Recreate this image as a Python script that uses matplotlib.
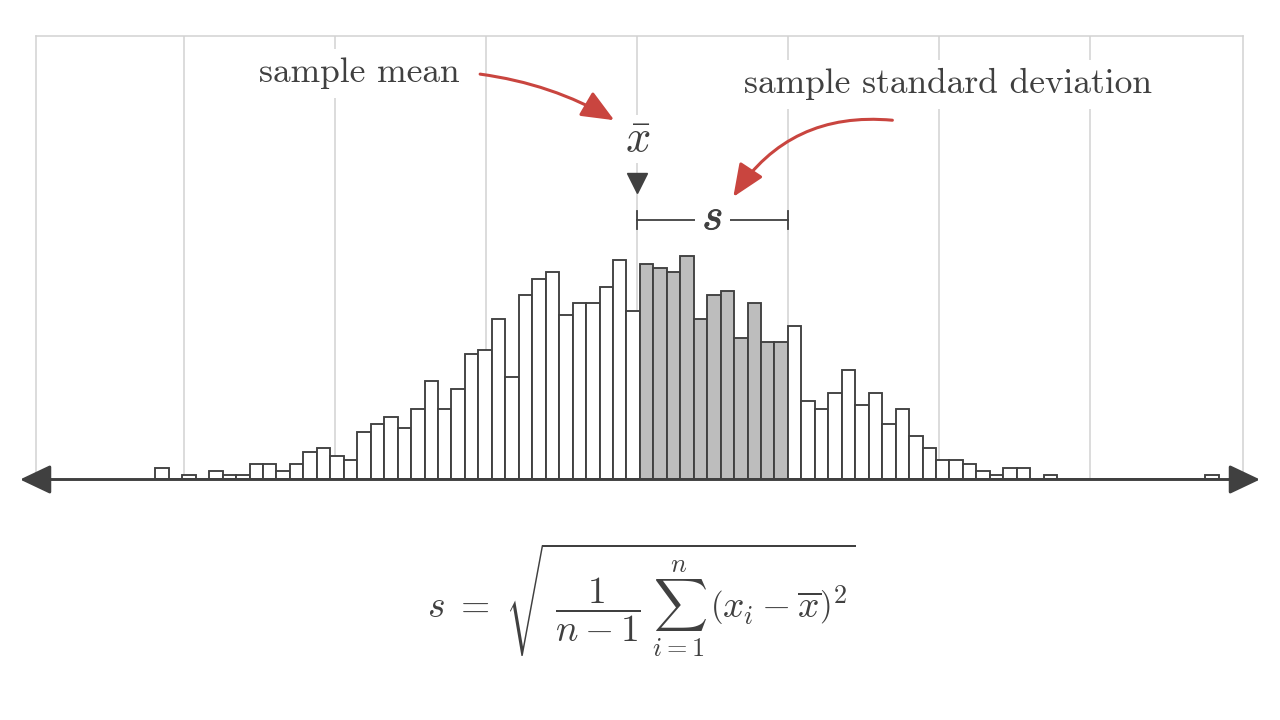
import matplotlib
matplotlib.use('Agg')
import matplotlib.pyplot as plt
import matplotlib.patheffects as pe
import numpy as np

plt.rcParams['mathtext.fontset'] = 'cm'
plt.rcParams['axes.unicode_minus'] = False

# ---------------- data ----------------
x_mean = 0.0          # sample mean (axis units = standard deviations)
x_sd = 1.0            # sample standard deviation
bin_start = -3.19     # left edge of the first histogram bin
bin_width = 0.0891
counts = [3, 0, 1, 0, 2, 1, 1, 4, 4, 2, 4, 7, 8, 6, 5, 12, 14, 16, 13, 18,
          25, 18, 23, 32, 33, 41, 26, 47, 51, 53, 42, 45, 45, 49, 56, 43,
          55, 54, 53, 57, 41, 47, 48, 36, 45, 35, 35, 39, 20, 18, 22, 28, 19, 22,
          14, 18, 11, 8, 5, 5, 4, 2, 1, 3, 3, 0, 1,
          0, 0, 0, 0, 0, 0, 0, 0, 0, 0, 0, 1]
grid_ticks = [-3, -2, -1, 0, 1, 2, 3]
label_mean = "sample mean"
label_sd = "sample standard deviation"
formula = (r'$s\; =\; \sqrt{\;\dfrac{1}{n-1}\;\sum_{i=1}^{n}\,'
           r'\left(x_i-\overline{x}\right)^2}$')

# ---------------- style ----------------
TXT = '#404040'
RED = '#c9453f'
GRID = '#d2d2d2'
SHADE = '#bdbdbd'

fig = plt.figure(figsize=(12.8, 7.2), dpi=100)
ax = fig.add_axes([36 / 1280, (720 - 479.3) / 720, 1207 / 1280, 443.3 / 720])
ax.set_xlim(-3.98, 4.01)
ax.set_ylim(0, 113.1)

lefts = bin_start + bin_width * np.arange(len(counts))
rights = lefts + bin_width
colors = [SHADE if (l >= x_mean - 1e-9 and r <= x_mean + x_sd + 0.01) else 'white'
          for l, r in zip(lefts, rights)]
ax.bar(lefts, counts, width=bin_width, align='edge', color=colors,
       edgecolor=TXT, linewidth=1.35, zorder=3)

ax.set_xticks(grid_ticks)
ax.set_yticks([])
ax.tick_params(axis='x', length=0, labelbottom=False)
ax.grid(axis='x', color=GRID, linewidth=1.1, zorder=0)
ax.set_axisbelow(True)
for side in ['left', 'right', 'top']:
    ax.spines[side].set_color(GRID)
    ax.spines[side].set_linewidth(1.1)
ax.spines['bottom'].set_visible(False)

xt = ax.get_xaxis_transform()   # x in data, y in axes fraction

# mean marker
ax.plot([x_mean], [0.6674], marker='v', markersize=15, color=TXT,
        transform=xt, clip_on=False, zorder=5)
ax.text(x_mean, 0.7388, r'$\bar{x}$', transform=xt, ha='center', va='baseline',
        fontsize=32, color=TXT, zorder=6,
        bbox=dict(facecolor='white', edgecolor='none', pad=2))

# s bracket
yb = 0.585
ax.plot([x_mean, x_mean + x_sd], [yb, yb], color=TXT, lw=1.3, transform=xt, zorder=4)
for xx in [x_mean, x_mean + x_sd]:
    ax.plot([xx, xx], [yb - 0.0203, yb + 0.0203], color=TXT, lw=1.3, transform=xt, zorder=4)
ax.text(x_mean + x_sd / 2, 0.5635, r'$s$', transform=xt, ha='center', va='baseline',
        fontsize=32, color=TXT, zorder=6,
        path_effects=[pe.withStroke(linewidth=0.6, foreground=TXT)],
        bbox=dict(facecolor='white', edgecolor='none', pad=5))

# labels
ax.text(-1.838, 0.8962, label_mean, transform=xt, ha='center', va='baseline',
        fontsize=25.5, fontfamily='cmr10', color=TXT, zorder=6,
        bbox=dict(facecolor='white', edgecolor='none', pad=6))
ax.text(2.054, 0.8707, label_sd, transform=xt, ha='center', va='baseline',
        fontsize=25.5, fontfamily='cmr10', color=TXT, zorder=6,
        bbox=dict(facecolor='white', edgecolor='none', pad=6))

# red arrows
ax.annotate('', xy=(-0.152, 0.810), xycoords=xt, xytext=(-1.040, 0.914), textcoords=xt,
            arrowprops=dict(arrowstyle='-|>,head_length=2.0,head_width=0.85',
                            mutation_scale=10, color=RED, lw=2.2,
                            shrinkA=0, shrinkB=0,
                            connectionstyle='arc3,rad=-0.1'), zorder=7)
ax.annotate('', xy=(0.636, 0.637), xycoords=xt, xytext=(1.689, 0.810), textcoords=xt,
            arrowprops=dict(arrowstyle='-|>,head_length=2.0,head_width=0.85',
                            mutation_scale=10, color=RED, lw=2.2,
                            shrinkA=0, shrinkB=0,
                            connectionstyle='arc3,rad=0.3'), zorder=7)

# double-headed horizontal axis
ax.annotate('', xy=(1260, 240.5), xycoords='figure pixels',
            xytext=(20, 240.5), textcoords='figure pixels',
            arrowprops=dict(arrowstyle='<|-|>,head_length=1.9,head_width=0.9',
                            mutation_scale=10, color=TXT, lw=2.1,
                            shrinkA=0, shrinkB=0), zorder=8, annotation_clip=False)

# formula
fig.text(641 / 1280, 1 - 600 / 720, formula, ha='center', va='center',
         fontsize=27, color=TXT)

fig.savefig('out.png', dpi=100, facecolor='white')
